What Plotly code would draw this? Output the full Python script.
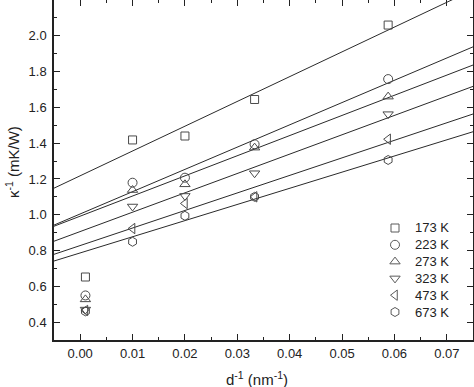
import numpy as np
import plotly.graph_objects as go

# ---- data ----
inv_d = [0.001, 0.01, 0.02, 0.0333, 0.0588]          # d^-1 (nm^-1)
temps = ["173 K", "223 K", "273 K", "323 K", "473 K", "673 K"]
k173 = [0.652, 1.418, 1.440, 1.644, 2.060]
k223 = [0.549, 1.179, 1.207, 1.394, 1.758]
k273 = [0.527, 1.138, 1.170, 1.375, 1.660]
k323 = [0.470, 1.046, 1.105, 1.232, 1.562]
k473 = [0.465, 0.923, 1.063, 1.100, 1.422]
k673 = [0.460, 0.849, 0.994, 1.100, 1.306]
series = [k173, k223, k273, k323, k473, k673]
symbols = ["square-open", "circle-open", "triangle-up-open",
           "triangle-down-open", "triangle-left-open", "hexagon-open"]
sizes = [8, 9, 9, 9, 9, 9]

x_range = [-0.005, 0.075]
y_range = [0.3, 2.2]
x_ticks = [0.0, 0.01, 0.02, 0.03, 0.04, 0.05, 0.06, 0.07]
x_ticktext = ["0.00", "0.01", "0.02", "0.03", "0.04", "0.05", "0.06", "0.07"]
y_ticks = [0.4, 0.6, 0.8, 1.0, 1.2, 1.4, 1.6, 1.8, 2.0]
y_ticktext = ["0.4", "0.6", "0.8", "1.0", "1.2", "1.4", "1.6", "1.8", "2.0"]

FONT = "Liberation Sans, Arial, sans-serif"
mk_col = "#4a4a4a"
line_col = "#2a2a2a"

# figure geometry (pixels)
W, H = 474, 387
ML, MR, MT, MB = 54, 1, 0, 47
PW, PH = W - ML - MR, H - MT - MB
# legend layout (pixels inside the figure)
LEG_SYM_X, LEG_TXT_X, LEG_Y0, LEG_DY = 395, 413, 228, 16.8

def px_to_paper_x(px):
    return (px - ML) / PW

def px_to_paper_y(py):
    return 1 - (py - MT) / PH

fig = go.Figure()

# linear fits (excluding the bulk point at d^-1 = 0.001)
xa = np.array(inv_d)
mask = xa >= 0.005
xl = np.array(x_range)
for ys in series:
    ya = np.array(ys)
    slope, icpt = np.polyfit(xa[mask], ya[mask], 1)
    fig.add_trace(go.Scatter(x=xl, y=icpt + slope * xl, mode="lines",
                             line=dict(color=line_col, width=1),
                             showlegend=False, hoverinfo="skip"))

for name, ys, sym, sz in zip(temps, series, symbols, sizes):
    fig.add_trace(go.Scatter(x=inv_d, y=ys, mode="markers", name=name,
                             showlegend=False,
                             marker=dict(symbol=sym, size=sz, color=mk_col,
                                         line=dict(color=mk_col, width=1))))

# custom legend (symbols on an overlaid paper-like axis, labels as annotations)
annotations = []
for i, (name, sym, sz) in enumerate(zip(temps, symbols, sizes)):
    yy = px_to_paper_y(LEG_Y0 + i * LEG_DY)
    fig.add_trace(go.Scatter(x=[px_to_paper_x(LEG_SYM_X)], y=[yy], mode="markers",
                             xaxis="x2", yaxis="y2", showlegend=False,
                             hoverinfo="skip",
                             marker=dict(symbol=sym, size=sz, color="#5a5a5a",
                                         line=dict(color="#5a5a5a", width=1))))
    annotations.append(dict(text=name, xref="paper", yref="paper",
                            x=px_to_paper_x(LEG_TXT_X), y=yy,
                            xanchor="left", yanchor="middle", showarrow=False,
                            font=dict(family=FONT, size=13, color="#222")))

axis_common = dict(showline=True, linecolor="#222", linewidth=1.5, mirror="ticks",
                   ticks="inside", ticklen=6, tickwidth=1.2, tickcolor="#222",
                   showgrid=False, zeroline=False, automargin=False,
                   tickfont=dict(family=FONT, size=13, color="#222"))

xaxis = dict(range=x_range, tickmode="array", tickvals=x_ticks, ticktext=x_ticktext,
             ticklabelstandoff=1,
             minor=dict(dtick=0.005, tick0=0, ticks="inside", ticklen=3,
                        tickwidth=1.2, tickcolor="#222", showgrid=False),
             **axis_common)
yaxis = dict(range=y_range, tickmode="array", tickvals=y_ticks, ticktext=y_ticktext,
             ticklabelstandoff=3,
             minor=dict(dtick=0.1, tick0=0, ticks="inside", ticklen=3,
                        tickwidth=1.2, tickcolor="#222", showgrid=False),
             **axis_common)

annotations += [
    dict(text="κ<sup>-1</sup> (mK/W)", xref="paper", yref="paper",
         x=px_to_paper_x(12), y=px_to_paper_y(162), xanchor="center", yanchor="middle",
         textangle=-90, showarrow=False,
         font=dict(family=FONT, size=15, color="#222")),
    dict(text="d<sup>-1</sup> (nm<sup>-1</sup>)", xref="paper", yref="paper",
         x=px_to_paper_x(257), y=px_to_paper_y(378), xanchor="center", yanchor="middle",
         showarrow=False, font=dict(family=FONT, size=15, color="#222")),
]

fig.update_layout(
    template="none",
    width=W, height=H,
    margin=dict(l=ML, r=MR, t=MT, b=MB, pad=0),
    paper_bgcolor="white", plot_bgcolor="white",
    font=dict(family=FONT, size=13, color="#222"),
    showlegend=False,
    xaxis=xaxis,
    yaxis=yaxis,
    xaxis2=dict(overlaying="x", anchor="y2", range=[0, 1], visible=False,
                automargin=False, fixedrange=True),
    yaxis2=dict(overlaying="y", anchor="x2", range=[0, 1], visible=False,
                automargin=False, fixedrange=True),
    annotations=annotations,
)

fig.write_html("out.html", config={"displayModeBar": False},
               post_script="document.body.style.margin='0';document.body.style.padding='0';")
